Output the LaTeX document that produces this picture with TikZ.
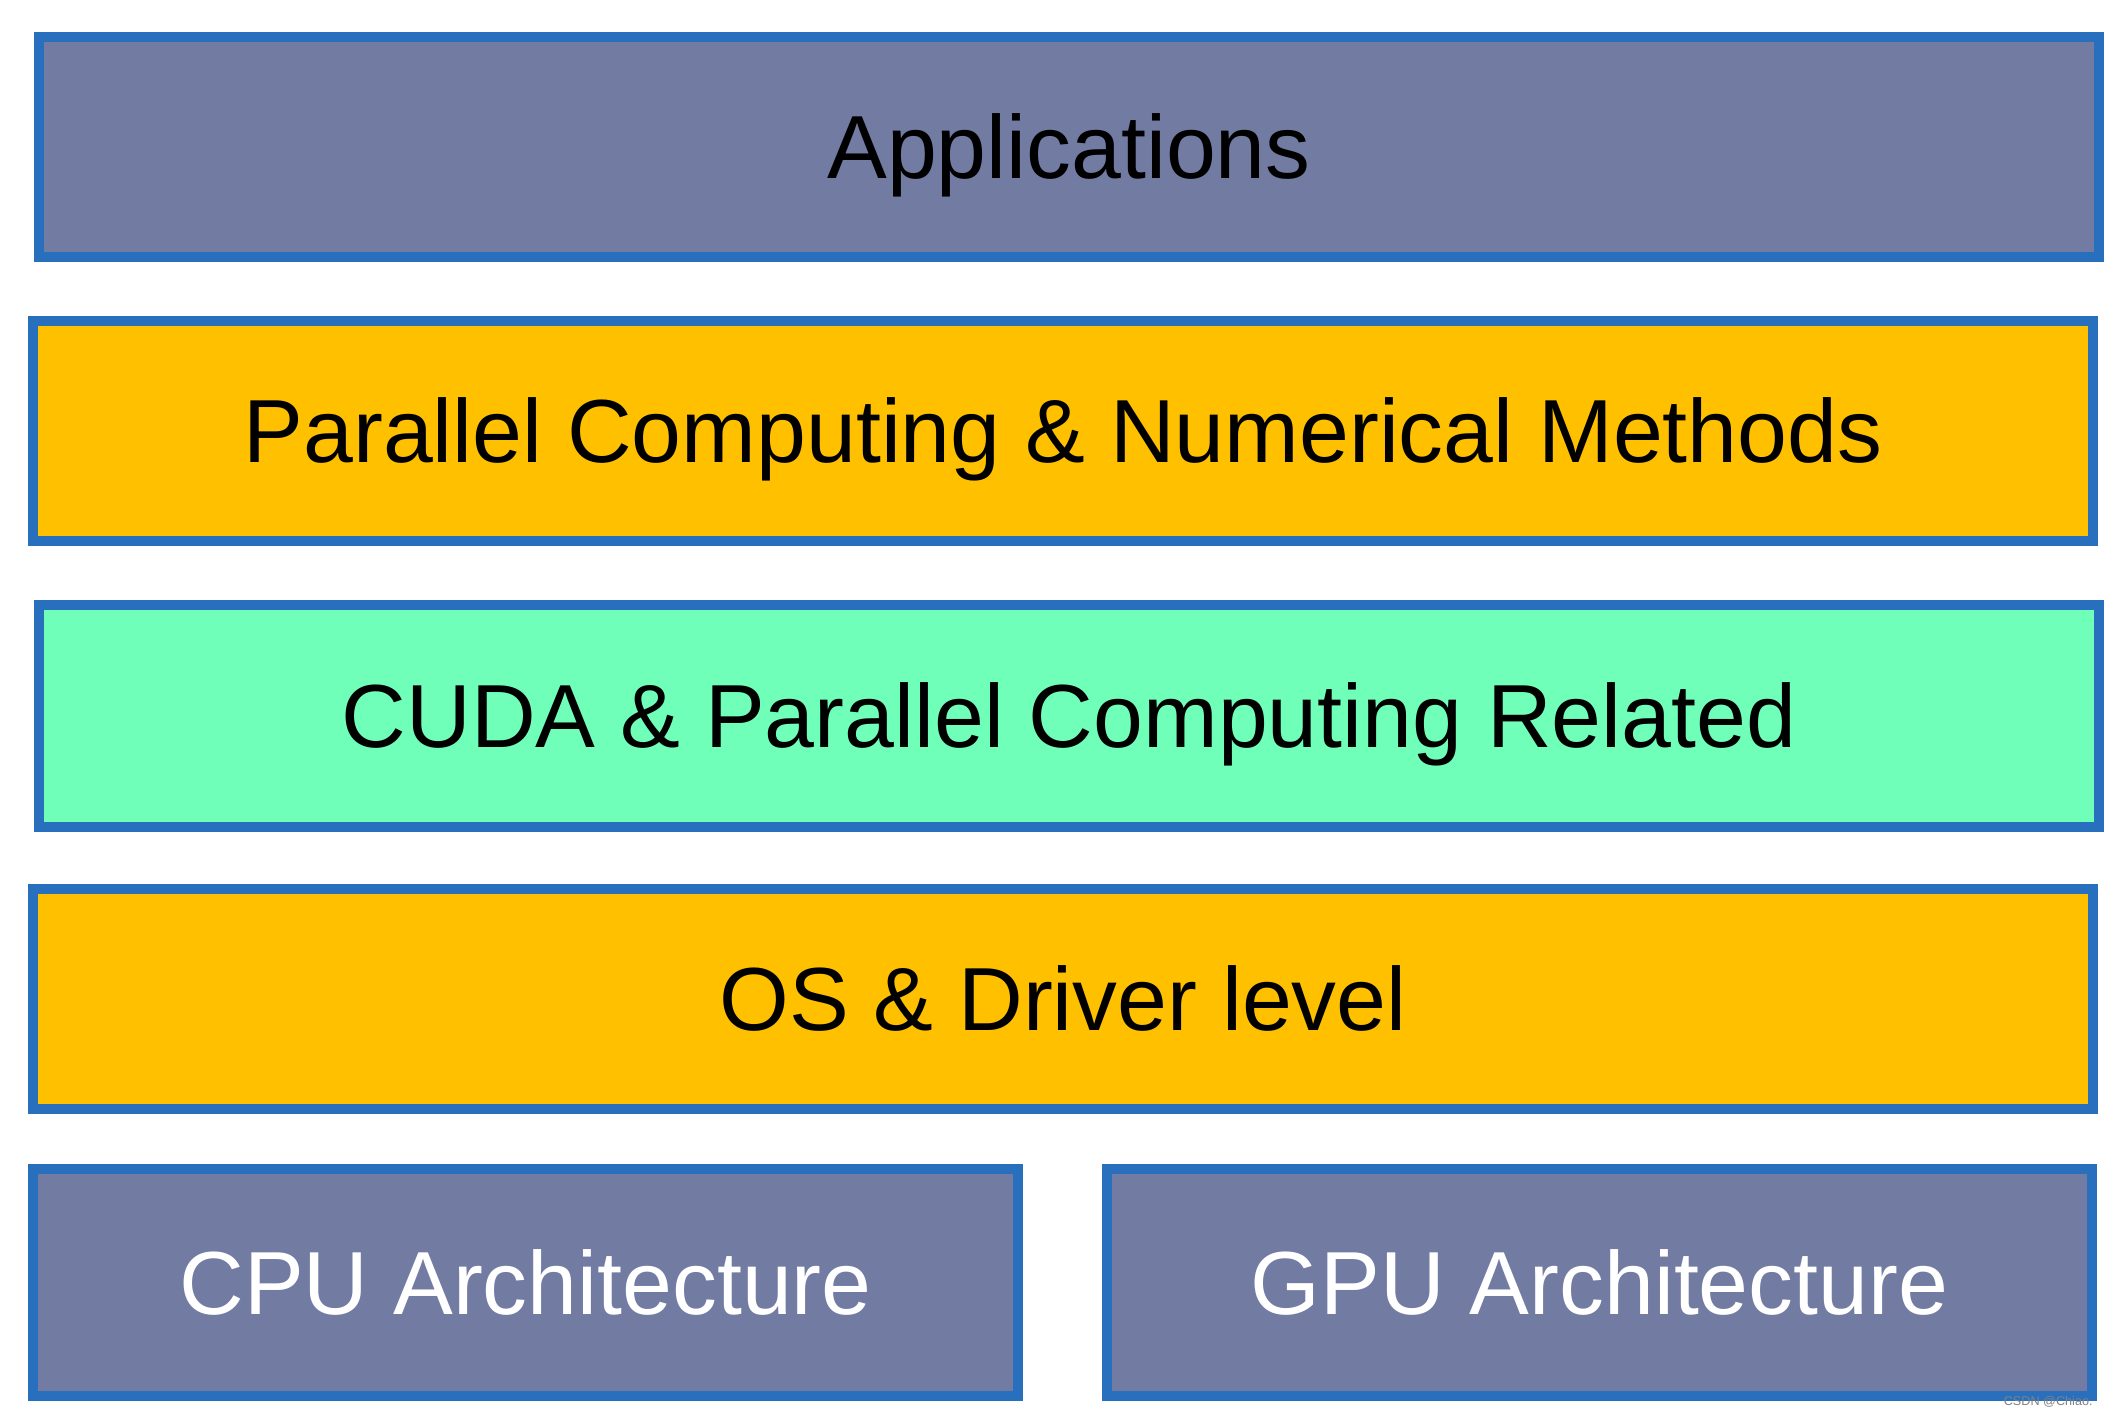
\documentclass[tikz,border=0pt]{standalone}
\usepackage{fontspec}
\setmainfont{Liberation Sans}
\usetikzlibrary{positioning}

\definecolor{slate}{RGB}{114,123,162}
\definecolor{edgeblue}{RGB}{40,112,190}
\definecolor{gold}{RGB}{255,192,0}
\definecolor{mint}{RGB}{112,255,184}

\begin{document}
\begin{tikzpicture}[node distance={5.2mm}, layer/.style={draw=edgeblue, line width=1mm, rectangle, minimum width=20.6cm, minimum height=2.2cm, inner sep=0pt, text height=8.2mm, text depth=1.9mm, font=\fontsize{25.5}{30}\selectfont}, arch/.style={layer, fill=slate, text=white, minimum width=9.85cm, minimum height=2.27cm}]
		\useasboundingbox (0,0) rectangle (21.2,-14.16);

		\node[layer, fill=slate] (1) at (10.69,-1.47) {Applications};
		\node[layer, fill=gold] (2) [below=5.4mm of 1, xshift=-0.6mm] {Parallel Computing \& Numerical Methods};
		\node[layer, fill=mint, minimum height=2.22cm] (3) [below=5.4mm of 2, xshift=0.6mm] {CUDA \& Parallel Computing Related};
		\node[layer, fill=gold] (4) [below=of 3, xshift=-0.6mm] {OS \& Driver level};
		\node[arch] (5) [below=5mm of 4.south west, anchor=north west] {CPU Architecture};
		\node[arch] (6) [right=7.9mm of 5] {GPU Architecture};

		\node[text=gray, font=\fontsize{3.6}{4}\selectfont, anchor=east] (7) at (21.05,-14.02) {CSDN @Chiao.};
	\end{tikzpicture}
\end{document}
